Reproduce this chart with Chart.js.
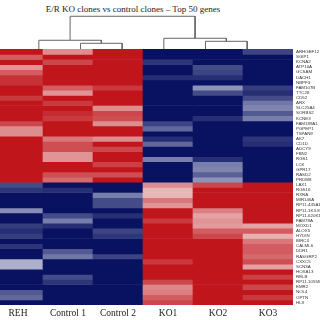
<!DOCTYPE html>
<html>
<head>
<meta charset="utf-8">
<script src="https://cdn.jsdelivr.net/npm/chart.js@4.4.0/dist/chart.umd.min.js"></script>
<style>
html, body { margin: 0; padding: 0; background: #fff; overflow: hidden; width: 320px; height: 320px; }
#title { position: absolute; left: 0; top: 4px; width: 266px; text-align: center; font: 9px "Liberation Serif", serif; color: #222; }
#wrap { position: absolute; left: -7px; top: 0; width: 327px; height: 320px; }
</style>
</head>
<body>
<div id="title">E/R KO clones vs control clones – Top 50 genes</div>
<div id="wrap"><canvas id="heat"></canvas></div>
<script>
// Samples (columns) and genes (rows)
const samples = ['REH', 'Control 1', 'Control 2', 'KO1', 'KO2', 'KO3'];
const genes = ['ARHGEF12', 'SGIP1', 'KCNA2', 'ATP10A', 'GCSAM', 'DACH1', 'NBPF3', 'FAM107B', 'TTC28', 'CD52',
  'ARX', 'SLC25A4', 'SORBS2', 'KCNE3', 'FAM189A1', 'PGPEP1', 'TSPAN9', 'AK7', 'CD1D', 'ADCY9',
  'FBN2', 'RGS1', 'LCK', 'GPR17', 'RASD2', 'PRDM8', 'LAX1', 'RGS16', 'RXRA', 'MIR146A',
  'RP11-445A1', 'RP11-1K3.8', 'RP11-620K11', 'FAM78A', 'MOXD1', 'ALOX5', 'HYDIN', 'BIRC3', 'CALML6', 'DDR1',
  'RASGRP2', 'CXXC5', 'SCN3A', 'HOXA13', 'RELB', 'RP11-1055B8', 'EMR2', 'NOL4', 'OPTN', 'HLX'];

// scaled expression per sample (red = high, blue = low)
const reh = [3, 2, 3, 1.2, 2, 2.6, 2.6, 3, 3, 2.5, 3, 3, 3, 3, 2.3, 1.3, 1.3, 3, 3, 3, 3, 3, 3, 3, 3, 3,
  -2.2, -2.5, -3, -3, -3, -1.3, -3, -3, -2.4, -2.6, -2.4, -3, -2.5, -3, -3, -0.8, -0.8, -3, -3, -3, -3, -2, -1.8, -3];
const control1 = [1.3, 3, 2.3, 3, 3, 3, 3, 2, 1.2, 3, 2.5, 3, 2.7, 2.5, 3, 3, 3, 1.6, 2.2, 2.2, 1.2, 1.2, 3, 3, 2.2, 1.8,
  -3, -2.6, -3, -3, -3, -3, -2.2, -1.5, -2.6, -3, -3, -3, -3, -2, -1.6, -3, -3, -3, -2.2, -2.5, -3, -3, -3, -3];
const control2 = [3, 3, 3, 3, 3, 3, 3, 2.5, 3, 3, 3, 1.3, 2.3, 2.2, 1.3, 3, 3, 1.3, 3, 2.3, 3, 3, 2.4, 3, 2.2, 3,
  -3, -3, -1.5, -2.2, -2.2, -3, -2.6, -3, -3, -2.3, -2.5, -3, -3, -3, -2.3, -3, -3, -3, -3, -3, -3, -3, -3, -3];
const ko1 = [-3, -3, -2.5, -3, -3, -2.6, -3, -3, -3, -3, -3, -3, -3, -3, -2.3, -1.8, -3, -2.6, -1.8, -3, -3, -1.5, -3, -3, -3, -3,
  1.3, 0.7, 0.7, 1.6, 1.2, 3, 3, 2.5, 3, 3, 3, 3, 3, 3, 3, 2.5, 3, 3, 3, 2.3, 1.4, 1.5, 2, 2.3];
const ko2 = [-3, -3, -3, -2.2, -2.3, -2.6, -3, -1.2, -2.2, -3, -3, -3, -3, -2.6, -3, -3, -3, -3, -3, -3, -3, -2.6, -1.5, -1.4, -1.9, -1.2,
  2.3, 3, 3, 3, 3, 1.5, 1, 1.2, 1.1, 2, 2.3, 3, 3, 3, 3, 3, 3, 3, 3, 3, 3, 3, 3, 3];
const ko3 = [-2.3, -3, -3, -3, -3, -3, -3, -2.4, -2.6, -2.2, -1.6, -1.4, -2, -1.5, -3, -3, -3, -2.5, -2.6, -3, -3, -3, -3, -3, -3, -3,
  3, 3, 3, 3, 3, 3, 3, 3, 1, 2, 0.8, 1.6, 2, 2, 1.8, 2.2, 1, 3, 2.4, 3, 2.3, 3, 2.5, 3];

// column clustering: nodes 6.. are merges of (mergeA, mergeB) at mergeHeight
const mergeA = [1, 4, 0, 3, 8];
const mergeB = [2, 5, 6, 7, 9];
const mergeHeight = [1.17, 1.56, 1.76, 2.15, 6.45];

const columns = [reh, control1, control2, ko1, ko2, ko3];

function heatColor(v) {
  const t = Math.min(Math.abs(v) / 3, 1);
  let from, to;
  if (v >= 0) { from = [245, 232, 232]; to = [192, 22, 27]; }
  else { from = [232, 234, 245]; to = [8, 18, 96]; }
  const c = from.map((f, k) => Math.round(f + (to[k] - f) * t));
  return 'rgb(' + c.join(',') + ')';
}

// one floating bar dataset per gene row
const rowSets = genes.map(function (g, i) {
  return {
    label: g,
    data: samples.map(() => [i, i + 1]),
    backgroundColor: samples.map((s, j) => heatColor(columns[j][i])),
    borderWidth: 0,
    barPercentage: 1,
    categoryPercentage: 1,
    grouped: false
  };
});

// dendrogram segments
const nodeX = samples.map((s, j) => j);
const nodeH = samples.map(() => 0);
const dendro = [];
mergeA.forEach(function (a, m) {
  const b = mergeB[m], h = mergeHeight[m];
  dendro.push({x: nodeX[a], y: -nodeH[a]}, {x: nodeX[a], y: -h}, {x: nodeX[b], y: -h}, {x: nodeX[b], y: -nodeH[b]}, {x: nodeX[a], y: null});
  nodeX.push((nodeX[a] + nodeX[b]) / 2);
  nodeH.push(h);
});

const ctx = document.getElementById('heat');
new Chart(ctx, {
  type: 'bar',
  data: {
    labels: samples,
    datasets: rowSets.concat([{
      type: 'line',
      label: 'dendrogram',
      data: dendro,
      xAxisID: 'xd',
      borderColor: '#666',
      borderWidth: 1,
      pointRadius: 0,
      spanGaps: false,
      fill: false,
      clip: false
    }])
  },
  options: {
    responsive: true,
    maintainAspectRatio: false,
    animation: false,
    layout: { padding: { top: 15, bottom: 0, left: 0, right: 0 } },
    plugins: { legend: { display: false }, tooltip: { enabled: false } },
    scales: {
      x: {
        grid: { display: false, drawTicks: false },
        border: { display: false },
        afterFit: function (axis) { axis.height = 15; },
        ticks: { color: '#222', padding: 3, maxRotation: 0, font: { family: '"Liberation Serif", serif', size: 9.5 } }
      },
      xd: { type: 'linear', display: false, min: -0.5, max: 5.5 },
      y: {
        position: 'right',
        reverse: true,
        min: -6.7,
        max: 50,
        grid: { display: false, drawTicks: false },
        border: { display: false },
        afterBuildTicks: function (axis) { axis.ticks = genes.map((g, i) => ({ value: i + 0.5 })); },
        afterFit: function (axis) { axis.width = 27; },
        ticks: {
          autoSkip: false,
          padding: 3,
          color: '#333',
          font: { family: '"Liberation Sans", sans-serif', size: 4.4 },
          callback: function (v, idx) { return genes[idx]; }
        }
      }
    }
  }
});
</script>
</body>
</html>
